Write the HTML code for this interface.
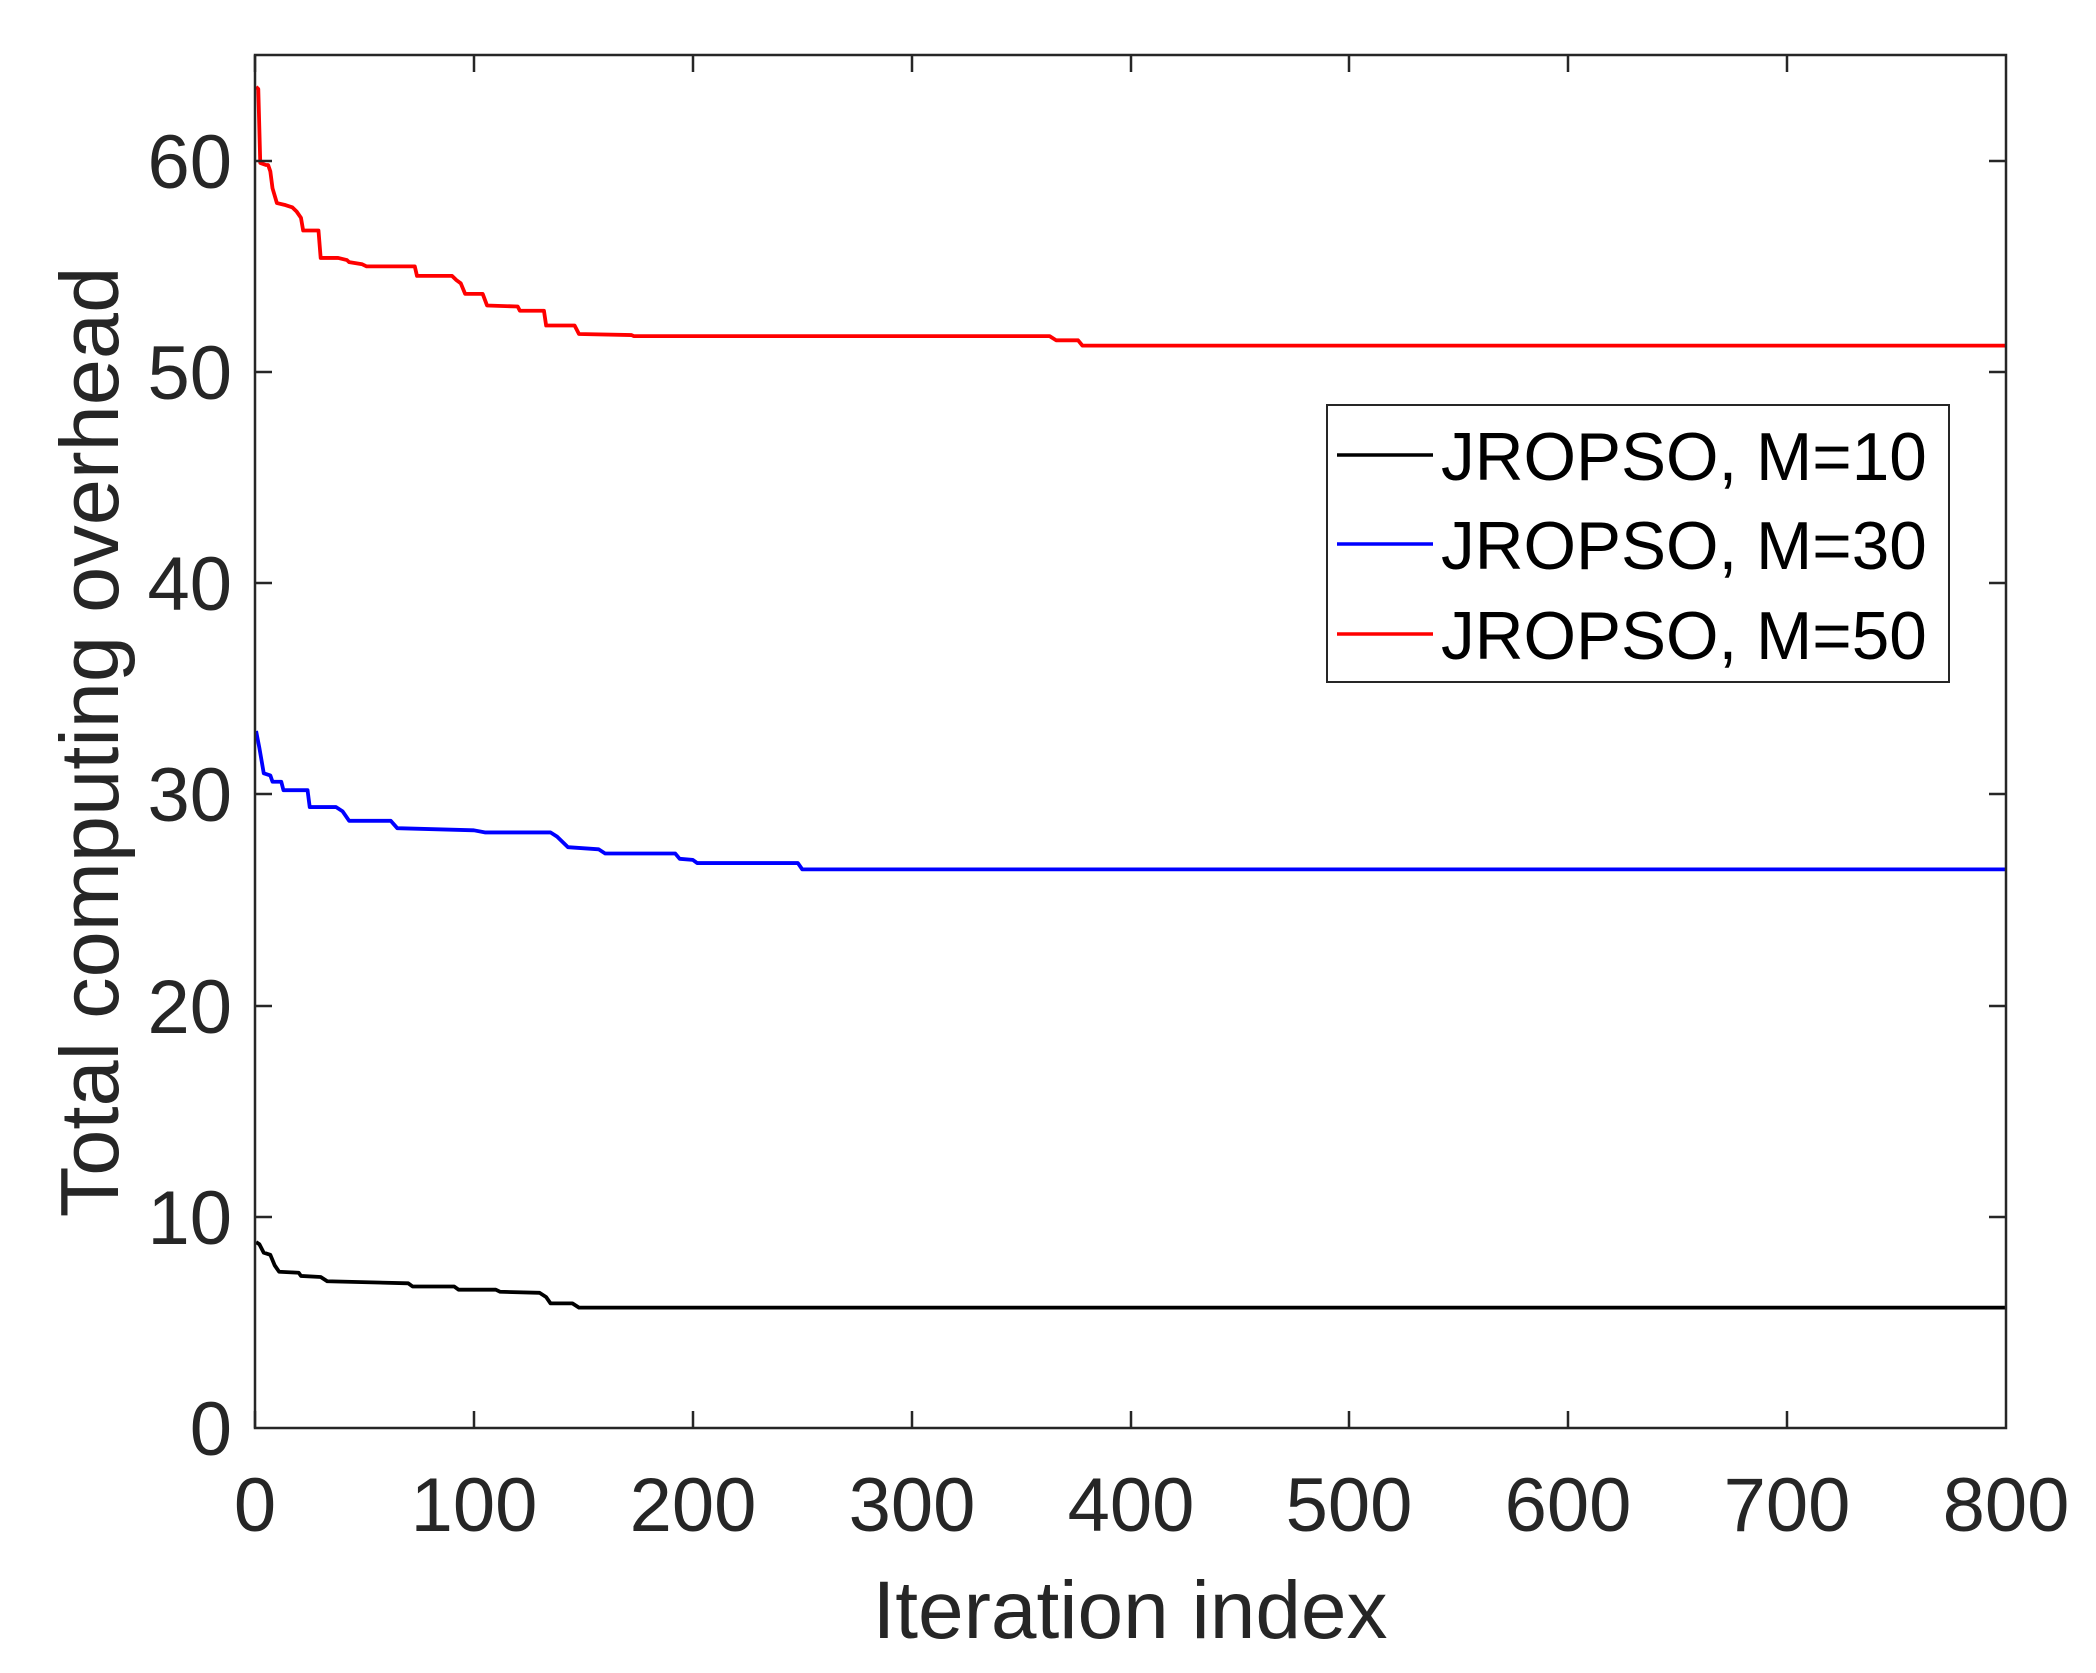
<!DOCTYPE html>
<html><head><meta charset="utf-8"><style>
html,body{margin:0;padding:0;background:#fff}
svg text{font-family:"Liberation Sans",Arial,sans-serif;fill:#262626}
</style></head><body>
<svg width="2096" height="1668" viewBox="0 0 2096 1668" xmlns="http://www.w3.org/2000/svg">
<rect width="2096" height="1668" fill="#fff"/>
<g transform="translate(255,1428) scale(2.189,-21.12)" fill="none" stroke-width="3.8" stroke-linejoin="round">
<path vector-effect="non-scaling-stroke" stroke="#ff0000" d="M0.5,63.5 L1.5,63.4 L2.4,59.9 L5,59.8 L6,59.8 L7,59.5 L8,58.7 L10,58.0 L14,57.9 L17,57.8 L19,57.6 L21,57.3 L22,56.7 L29,56.7 L30,55.4 L38,55.4 L42,55.3 L43,55.2 L49,55.1 L51,55.0 L73,55.0 L74,54.55 L90,54.55 L92,54.35 L94,54.2 L96,53.7 L104,53.7 L106,53.15 L120,53.1 L121,52.9 L132,52.9 L133,52.2 L146,52.2 L148,51.8 L172,51.75 L173,51.7 L363,51.7 L366,51.5 L376,51.5 L378,51.25 L800,51.25"/>
<path vector-effect="non-scaling-stroke" stroke="#0000ff" d="M0.5,33.0 L2,32.2 L4,31.0 L7,30.9 L8,30.6 L12,30.6 L13,30.2 L24,30.2 L25,29.4 L37,29.4 L40,29.2 L43,28.75 L62,28.75 L65,28.4 L100,28.3 L105,28.2 L135,28.2 L138,28.0 L140,27.8 L143,27.5 L157,27.4 L160,27.2 L192,27.2 L194,26.95 L200,26.9 L202,26.75 L248,26.75 L250,26.45 L800,26.45"/>
<path vector-effect="non-scaling-stroke" stroke="#000000" d="M0.5,8.8 L2,8.7 L4,8.3 L7,8.2 L9,7.7 L11,7.4 L20,7.35 L21,7.2 L30,7.15 L33,6.95 L70,6.85 L72,6.7 L91,6.7 L93,6.55 L110,6.55 L112,6.45 L130,6.4 L133,6.2 L135,5.9 L145,5.9 L148,5.7 L800,5.7"/>
</g>
<g stroke="#262626" stroke-width="2.5" fill="none">
<rect x="255" y="55" width="1751" height="1373"/>
<path d="M255,1428v-17M474,1428v-17M693,1428v-17M912,1428v-17M1131,1428v-17M1349,1428v-17M1568,1428v-17M1787,1428v-17
M255,55v17M474,55v17M693,55v17M912,55v17M1131,55v17M1349,55v17M1568,55v17M1787,55v17
M255,1217h17M255,1006h17M255,794h17M255,583h17M255,372h17M255,161h17
M2006,1217h-17M2006,1006h-17M2006,794h-17M2006,583h-17M2006,372h-17M2006,161h-17"/>
</g>
<g font-size="76" text-anchor="middle">
<text x="255" y="1531">0</text><text x="474" y="1531">100</text><text x="693" y="1531">200</text><text x="912" y="1531">300</text><text x="1131" y="1531">400</text><text x="1349" y="1531">500</text><text x="1568" y="1531">600</text><text x="1787" y="1531">700</text><text x="2006" y="1531">800</text>
</g>
<g font-size="76" text-anchor="end">
<text x="232" y="1455">0</text><text x="232" y="1244">10</text><text x="232" y="1033">20</text><text x="232" y="821">30</text><text x="232" y="610">40</text><text x="232" y="399">50</text><text x="232" y="188">60</text>
</g>
<text x="1130" y="1638" font-size="82" text-anchor="middle">Iteration index</text>
<text transform="translate(118,742) rotate(-90)" font-size="83" text-anchor="middle">Total computing overhead</text>
<rect x="1327" y="405" width="622" height="277" fill="#fff" stroke="#262626" stroke-width="2"/>
<g stroke-width="3.5">
<line x1="1337" y1="455" x2="1433" y2="455" stroke="#000"/>
<line x1="1337" y1="544" x2="1433" y2="544" stroke="#0000ff"/>
<line x1="1337" y1="634" x2="1433" y2="634" stroke="#ff0000"/>
</g>
<g font-size="67.5">
<text x="1441" y="480" style="fill:#000">JROPSO, M=10</text>
<text x="1441" y="569" style="fill:#000">JROPSO, M=30</text>
<text x="1441" y="659" style="fill:#000">JROPSO, M=50</text>
</g>
</svg>
</body></html>
